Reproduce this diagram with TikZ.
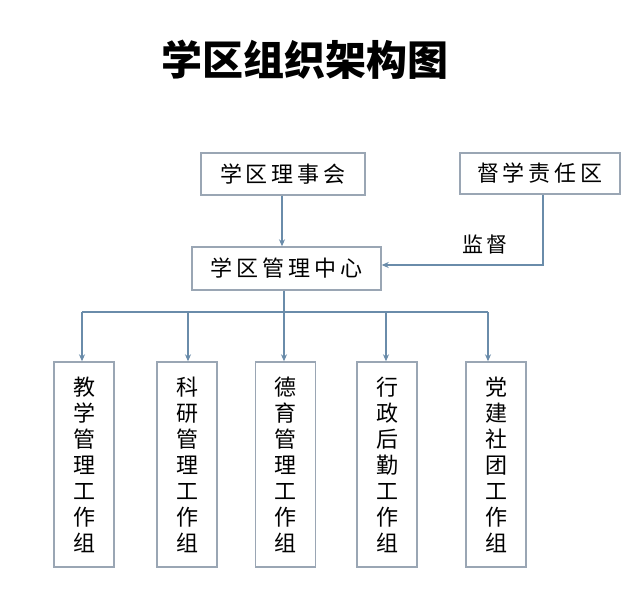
\documentclass[tikz,border=0pt]{standalone}
\usepackage{fontspec}
\setmainfont{Noto Sans CJK SC}
\newfontfamily\cjk{Noto Sans CJK SC}
\usetikzlibrary{arrows.meta}
\definecolor{boxc}{HTML}{9AA6B4}
\definecolor{arrc}{HTML}{6A8CAA}
\begin{document}
\begin{tikzpicture}[x=1pt,y=-1pt,
  box/.style={draw=boxc,line width=1.4pt,inner sep=0pt,font=\cjk\fontsize{22}{26}\selectfont},
  vbox/.style={box,minimum width=60pt,minimum height=205pt,align=center},
  conn/.style={draw=arrc,line width=1.4pt},
  arr/.style={conn,-{Stealth[length=7pt,width=6pt]}}]
\useasboundingbox (0,0) rectangle (640,603);
\fill[white] (0,0) rectangle (640,603);
\node[font=\cjk\bfseries\fontsize{41}{44}\selectfont] (title) at (305,60) {学区组织架构图};
\node[box,minimum width=164pt,minimum height=42pt] (lsh) at (283,174) {学\hspace{4pt}区\hspace{4pt}理\hspace{4pt}事\hspace{4pt}会};
\node[box,minimum width=160pt,minimum height=41pt] (dx) at (540,173.5) {督\hspace{4pt}学\hspace{4pt}责\hspace{4pt}任\hspace{4pt}区};
\node[box,minimum width=189pt,minimum height=43pt] (zx) at (286.5,268.5) {学\hspace{4pt}区\hspace{4pt}管\hspace{4pt}理\hspace{4pt}中\hspace{4pt}心};
\node[vbox] (b1) at (84,464.5) {教\\学\\管\\理\\工\\作\\组};
\node[vbox] (b2) at (187,464.5) {科\\研\\管\\理\\工\\作\\组};
\node[vbox] (b3) at (285.5,464.5) {德\\育\\管\\理\\工\\作\\组};
\node[vbox] (b4) at (387,464.5) {行\\政\\后\\勤\\工\\作\\组};
\node[vbox] (b5) at (496,464.5) {党\\建\\社\\团\\工\\作\\组};
\coordinate (bus) at (284,312);
\coordinate (turn) at (543,265);
\draw[arr] ([xshift=-1pt]lsh.south) -- ([xshift=-1pt]lsh.south |- zx.north);
\draw[arr] ([xshift=3pt]dx.south) -- ([xshift=3pt]dx.south |- turn) -- (turn -| zx.east);
\node[font=\cjk\fontsize{21}{24}\selectfont] (jd) at (485,244) {监\hspace{3pt}督};
\draw[conn] ([xshift=-2.5pt]zx.south) -- (bus);
\draw[conn] ([xshift=-2pt]b1.north |- bus) -- ([xshift=-8pt]b5.north |- bus);
\draw[arr] ([xshift=-2pt]b1.north |- bus) -- ([xshift=-2pt]b1.north);
\draw[arr] ([xshift=1pt]b2.north |- bus) -- ([xshift=1pt]b2.north);
\draw[arr] ([xshift=-1.5pt]b3.north |- bus) -- ([xshift=-1.5pt]b3.north);
\draw[arr] ([xshift=-1pt]b4.north |- bus) -- ([xshift=-1pt]b4.north);
\draw[arr] ([xshift=-8pt]b5.north |- bus) -- ([xshift=-8pt]b5.north);
\end{tikzpicture}
\end{document}
